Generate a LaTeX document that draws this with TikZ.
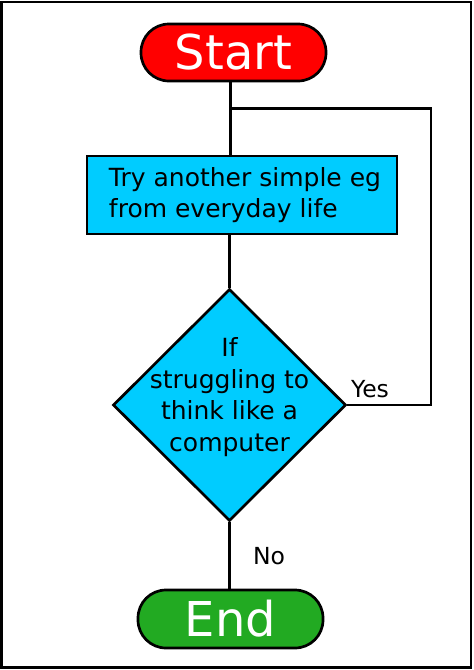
\documentclass[tikz,border=0pt]{standalone}
\usepackage{fontspec}
\setmainfont{DejaVu Sans}
\usetikzlibrary{shapes.geometric}
\definecolor{startred}{HTML}{FF0000}
\definecolor{boxcyan}{HTML}{00CCFF}
\definecolor{endgreen}{HTML}{22AA22}
\begin{document}
\begin{tikzpicture}[x=1pt,y=-1pt,line width=2.7pt,
  term/.style={draw=black,line width=2.7pt,rounded corners=28pt,minimum width=185pt,minimum height=57pt,inner sep=0pt,text=white,font=\fontsize{48}{50}\selectfont},
  proc/.style={draw=black,line width=2.7pt,fill=boxcyan,minimum width=310pt,minimum height=78pt,inner sep=0pt,align=left,font=\fontsize{25}{31}\selectfont},
  dec/.style={diamond,draw=black,line width=2.7pt,fill=boxcyan,minimum width=233pt,minimum height=232pt,inner sep=0pt},
  dectxt/.style={align=center,inner sep=0pt,font=\fontsize{25}{31.5}\selectfont},
  lbl/.style={inner sep=0pt,font=\fontsize{23.5}{26}\selectfont},
  conn/.style={draw=black,line width=2.7pt}]
\useasboundingbox (0,0) rectangle (474,670);
\draw[line width=2.7pt] (1.5,2) rectangle (471,667.5);
\node[term,fill=startred] (start) at (233.5,52.5) {Start};
\node[proc] (box) at (242,195) {\hspace{6pt}Try another simple eg\\\hspace{6pt}from everyday life};
\node[dec] (dec) at (229.5,405) {};
\node[dectxt] (dectext) at (229.5,397) {If\\struggling to\\think like a\\computer};
\node[term,fill=endgreen,minimum height=58pt] (end) at (230.5,619) {End};
\coordinate (lx) at (230.5,108.5);
\coordinate (rt) at (431,108.5);
\coordinate (rb) at (431,405);
\draw[conn] (start.south -| lx) -- (box.north -| lx);
\draw[conn] (box.south -| dec.north) -- (dec.north);
\draw[conn] (dec.east) -- (rb) -- (rt) -- (lx);
\draw[conn] (dec.south) -- (end.north -| dec.south);
\node[lbl] (yes) at (370,389) {Yes};
\node[lbl] (no) at (269,556) {No};
\end{tikzpicture}
\end{document}
